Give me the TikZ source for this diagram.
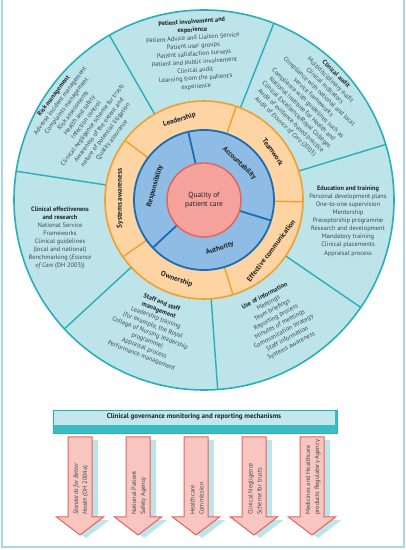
\documentclass[tikz,border=0pt]{standalone}
\usepackage{fontspec}
\setmainfont{PT Sans}
\usetikzlibrary{calc}
\definecolor{ringcyan}{HTML}{BDE4E9}
\definecolor{tealline}{HTML}{2AAFB9}
\definecolor{orfill}{HTML}{FDD4A2}
\definecolor{orline}{HTML}{F29F32}
\definecolor{blfill}{HTML}{8FBCE4}
\definecolor{blline}{HTML}{1B6DB3}
\definecolor{pkfill}{HTML}{F5A29D}
\definecolor{pkline}{HTML}{E5625C}
\definecolor{bodytxt}{HTML}{3E4852}
\definecolor{titletxt}{HTML}{1E2226}
\definecolor{framecol}{HTML}{A9DAE1}
\definecolor{arrfill}{HTML}{F9C5C1}
\definecolor{bardark}{HTML}{3CBCC5}
\definecolor{barface}{HTML}{C3E8EC}
\newcommand{\ttl}[1]{{\bfseries\color{titletxt}#1}}
\begin{document}
\begin{tikzpicture}[x=1pt,y=1pt,
  outertext/.style={font=\fontsize{6.4}{8.1}\selectfont, text=bodytxt, align=center, inner sep=0pt},
  ringlabel/.style={font=\bfseries\fontsize{7.2}{8}\selectfont, text=titletxt, inner sep=0pt},
  arrtext/.style={font=\fontsize{6.3}{9}\selectfont, text=bodytxt, align=left, rotate=90, anchor=west, inner sep=0pt},
  tealdiv/.style={draw=tealline, line width=1.4pt},
  ordiv/.style={draw=orline, line width=1.4pt},
  bldiv/.style={draw=blline, line width=1.8pt}]
\useasboundingbox (0,0) rectangle (406,550);
\coordinate (C) at (204,350);
% outer ring
\fill[ringcyan] (C) circle (190);
\foreach \a in {17,68.43,119.86,171.29,222.71,274.14,325.57}
  \draw[tealdiv] ($(C)+(\a:99)$) -- ($(C)+(\a:190)$);
\draw[tealline, line width=1.6pt] (C) circle (190);
% orange ring
\filldraw[fill=orfill, draw=orline, line width=1.6pt] (C) circle (99);
\foreach \a in {-1,71,143,215,287}
  \draw[ordiv] ($(C)+(\a:70)$) -- ($(C)+(\a:99)$);
% blue ring
\filldraw[fill=blfill, draw=blline, line width=1.8pt] (C) circle (70);
\foreach \a in {103,223,343}
  \draw[bldiv] ($(C)+(\a:37)$) -- ($(C)+(\a:70)$);
% core
\filldraw[fill=pkfill, draw=pkline, line width=1.4pt] (C) circle (37);
\node[font=\fontsize{7.4}{9}\selectfont, align=center, text=titletxt] (core) at (C) {Quality of\\patient care};
% blue labels
\node[ringlabel, rotate=74] (resp) at ($(C)+(164:51)$) {Responsibility};
\node[ringlabel, rotate=-44] (acc) at ($(C)+(46:51)$) {Accountability};
\node[ringlabel, rotate=18] (auth) at ($(C)+(-72:51)$) {Authority};
% orange labels
\node[ringlabel, rotate=17] (lead) at ($(C)+(107:84)$) {Leadership};
\node[ringlabel, rotate=-55] (team) at ($(C)+(35:84)$) {Teamwork};
\node[ringlabel, rotate=53] (effc) at ($(C)+(-37:84)$) {Effective communication};
\node[ringlabel, rotate=-19] (own) at ($(C)+(251:84)$) {Ownership};
\node[ringlabel, rotate=90] (sysa) at ($(C)+(179:84)$) {Systems awareness};
% outer texts
\node[outertext, rotate=4] (pie) at (194,495.5) {\ttl{Patient involvement and}\\\ttl{experience}\\Patient Advice and Liaison Service\\Patient user groups\\Patient satisfaction surveys\\Patient and public involvement\\Clinical audit\\Learning from the patient's\\experience};
\node[outertext, rotate=-44] (audit) at (310.5,449.5) {\ttl{Clinical audit}\\Multidisciplinary audit\\Clinical indicators\\Compliance with national and local\\service frameworks\\Compliance with guidelines such as\\National Institute for Health and\\Clinical Excellence/Royal Colleges\\Audit of evidence-based practice\\Audit of \emph{Essence of Care} (2003)};
\node[outertext, rotate=53] (risk) at (83,432) {\ttl{Risk management}\\Adverse incident management\\Complaints management\\Risk assessments\\Health and safety\\Infection control\\Clinical negligence scheme for trusts\\Awareness of the extent and\\nature of potential litigation\\Quality assurance};
\node[outertext] (ceff) at (60,312) {\ttl{Clinical effectiveness}\\\ttl{and research}\\National Service\\Frameworks\\Clinical guidelines\\(local and national)\\Benchmarking (\emph{Essence}\\\emph{of Care} (DH 2003))};
\node[outertext, rotate=-21] (staff) at (151.5,220.5) {\ttl{Staff and staff}\\\ttl{management}\\Leadership training\\(for example, the Royal\\College of Nursing leadership\\programme)\\Appraisal process\\Performance management};
\node[outertext, rotate=28] (info) at (278,229) {\ttl{Use of information}\\Meetings\\Team briefings\\Reporting process\\Minutes of meetings\\Communication strategy\\Staff information\\Systems awareness};
\node[outertext] (edu) at (348,329) {\ttl{Education and training}\\Personal development plans\\One-to-one supervision\\Mentorship\\Preceptorship programme\\Research and development\\Mandatory training\\Clinical placements\\Appraisal process};
% bar
\fill[bardark] (53,117) rectangle (337,140);
\fill[barface] (53,125) rectangle (335,140);
\draw[tealline, line width=0.8pt] (53,117) rectangle (337,140);
\node[font=\bfseries\fontsize{7}{8}\selectfont, text=titletxt] (bar) at (194,133) {Clinical governance monitoring and reporting mechanisms};
% arrows
\foreach \x/\n/\t in {80/a/{\emph{Standards for Better}\\\emph{Health} (DH 2004a)},138/b/{National Patient\\Safety Agency},196/c/{Healthcare\\Commission},254/d/{Clinical Negligence\\Scheme for trusts},312/e/{Medicines and Healthcare\\products Regulatory Agency}}{
  \fill[ringcyan] (\x-6,110) -- (\x+18,110) -- (\x+18,30) -- (\x+29.5,30) -- (\x+6,12) -- (\x-17.5,30) -- (\x-6,30) -- cycle;
  \filldraw[fill=arrfill, draw=pkline, line width=1pt] (\x-12,113) -- (\x+12,113) -- (\x+12,33) -- (\x+23.5,33) -- (\x,15) -- (\x-23.5,33) -- (\x-12,33) -- cycle;
  \node[arrtext] (txt\n) at (\x+1,35) {\t};
}
% frame
\draw[framecol, line width=1.5pt] (2,550) -- (2,3) -- (404,3) -- (404,550);
\end{tikzpicture}
\end{document}
